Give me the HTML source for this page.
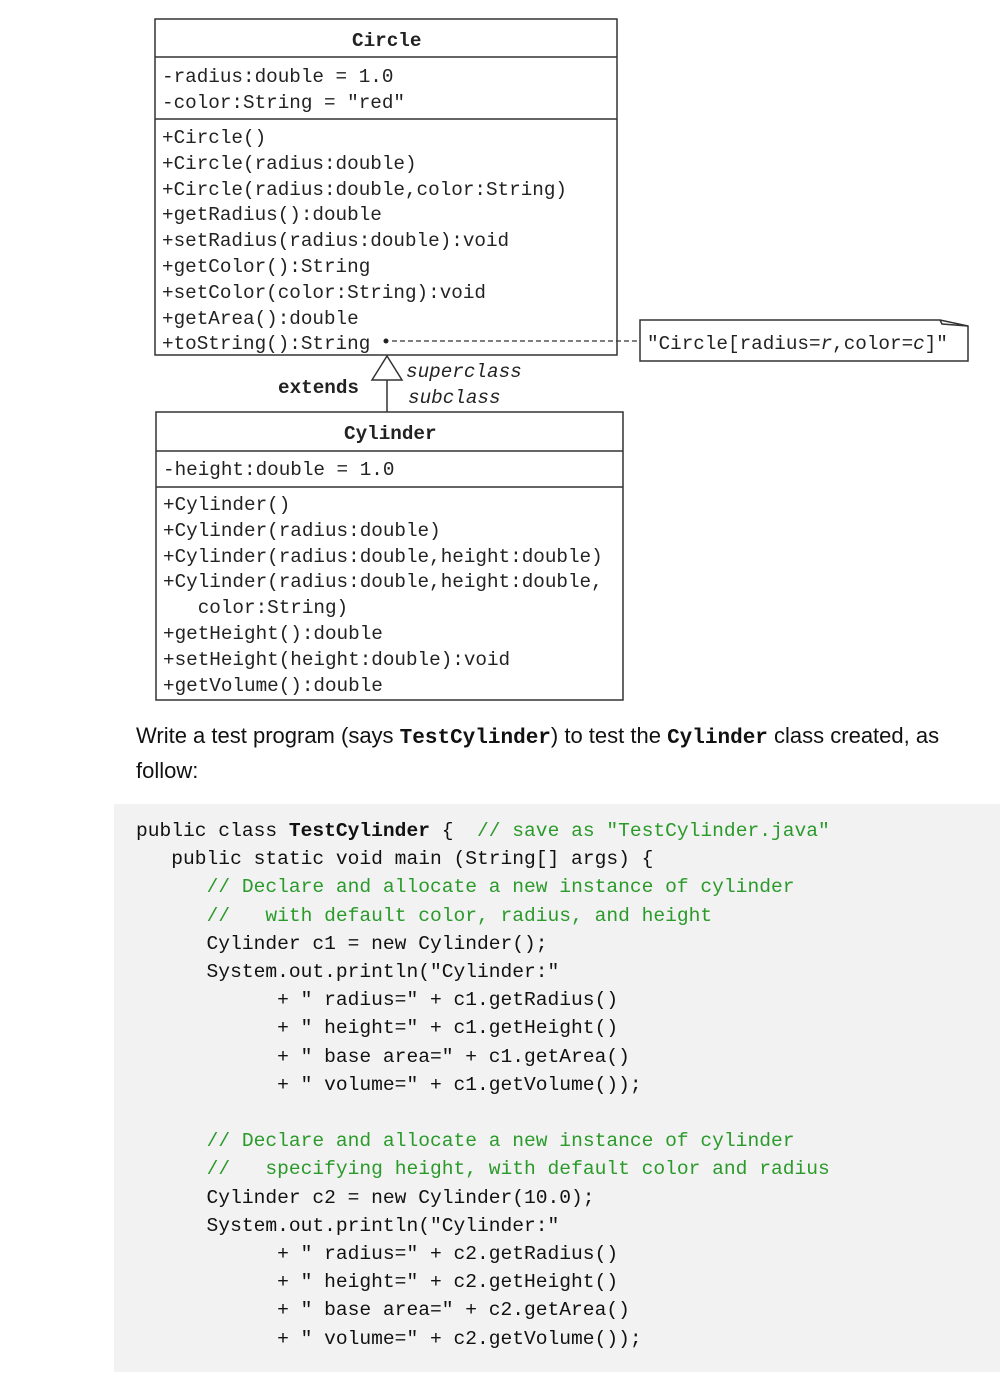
<!DOCTYPE html>
<html><head><meta charset="utf-8"><style>
body{margin:0;width:1000px;height:1384px;background:#fff;position:relative;overflow:hidden;font-family:"Liberation Sans",sans-serif}
.m{position:absolute;font-family:"Liberation Mono",monospace;font-size:19.3px;white-space:pre;color:#222;line-height:25.8px}
.b{font-weight:bold}
.code{position:absolute;left:114px;top:804px;width:886px;height:568px;background:#f2f2f2}
.c{position:absolute;left:136px;top:817px;font-family:"Liberation Mono",monospace;font-size:19.6px;line-height:28.2px;white-space:pre;color:#111}
.g{color:#2a9a2a}
.p{position:absolute;left:136px;top:720px;font-size:22px;line-height:32px;color:#111;width:820px}
.p code{font-family:"Liberation Mono",monospace;font-weight:bold;font-size:21px}
</style></head><body>
<svg width="1000" height="720" style="position:absolute;left:0;top:0">
<g stroke="#333" fill="none" stroke-width="1.5">
<rect x="155" y="19" width="462" height="336"/>
<line x1="155" y1="57" x2="617" y2="57"/>
<line x1="155" y1="119" x2="617" y2="119"/>
<rect x="156" y="412" width="467" height="288"/>
<line x1="156" y1="451" x2="623" y2="451"/>
<line x1="156" y1="487" x2="623" y2="487"/>
<polygon points="387,356 372,380 402,380" fill="#fff"/>
<line x1="387" y1="380" x2="387" y2="412"/>
<line x1="392" y1="341" x2="640" y2="341" stroke-dasharray="5,3" stroke-width="1.2"/>
<path d="M640 320 L940 320 L968 326 L968 361 L640 361 Z"/>
<path d="M940 320 L942 324 L968 326"/>
</g>
<circle cx="386" cy="341" r="2.5" fill="#222"/>
</svg>
<div class="m b" style="left:352px;top:29px">Circle</div>
<div class="m" style="left:162px;top:65px">-radius:double = 1.0
-color:String = "red"</div>
<div class="m" style="left:162px;top:126px;height:228px;overflow:hidden">+Circle()
+Circle(radius:double)
+Circle(radius:double,color:String)
+getRadius():double
+setRadius(radius:double):void
+getColor():String
+setColor(color:String):void
+getArea():double
+toString():String</div>
<div class="m" style="left:647px;top:332px">"Circle[radius=<i>r</i>,color=<i>c</i>]"</div>
<div class="m b" style="left:278px;top:376px">extends</div>
<div class="m" style="left:406px;top:360px;font-style:italic">superclass</div>
<div class="m" style="left:408px;top:386px;font-style:italic">subclass</div>
<div class="m b" style="left:344px;top:422px">Cylinder</div>
<div class="m" style="left:163px;top:458px">-height:double = 1.0</div>
<div class="m" style="left:163px;top:493px">+Cylinder()
+Cylinder(radius:double)
+Cylinder(radius:double,height:double)
+Cylinder(radius:double,height:double,
   color:String)
+getHeight():double
+setHeight(height:double):void
+getVolume():double</div>
<div class="p">Write a test program (says <code>TestCylinder</code>) to test the <code>Cylinder</code> class created, as follow:</div>
<div class="code"></div>
<div class="c">public class <b>TestCylinder</b> {  <span class="g">// save as "TestCylinder.java"</span>
   public static void main (String[] args) {
      <span class="g">// Declare and allocate a new instance of cylinder</span>
      <span class="g">//   with default color, radius, and height</span>
      Cylinder c1 = new Cylinder();
      System.out.println("Cylinder:"
            + " radius=" + c1.getRadius()
            + " height=" + c1.getHeight()
            + " base area=" + c1.getArea()
            + " volume=" + c1.getVolume());

      <span class="g">// Declare and allocate a new instance of cylinder</span>
      <span class="g">//   specifying height, with default color and radius</span>
      Cylinder c2 = new Cylinder(10.0);
      System.out.println("Cylinder:"
            + " radius=" + c2.getRadius()
            + " height=" + c2.getHeight()
            + " base area=" + c2.getArea()
            + " volume=" + c2.getVolume());</div>
</body></html>
